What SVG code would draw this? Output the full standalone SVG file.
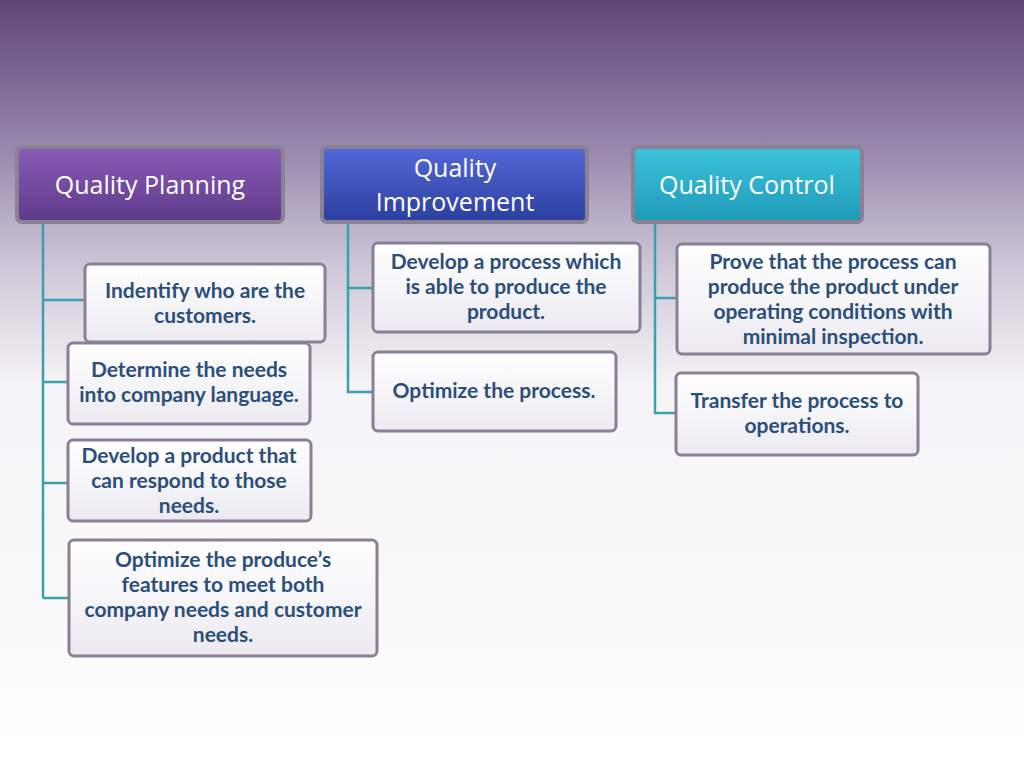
<svg xmlns="http://www.w3.org/2000/svg" width="1024" height="768" viewBox="0 0 1024 768">
<defs>
<linearGradient id="bg" x1="0" y1="0" x2="0" y2="1">
<stop offset="0" stop-color="#5d4679"/>
<stop offset="0.2" stop-color="#9a8aae"/>
<stop offset="0.35" stop-color="#cfc8d8"/>
<stop offset="0.5" stop-color="#f4f3f5"/>
<stop offset="1" stop-color="#ffffff"/>
</linearGradient>
<linearGradient id="gp" x1="0" y1="0" x2="0" y2="1"><stop offset="0" stop-color="#8a5cb8"/><stop offset="1" stop-color="#5e3a8a"/></linearGradient>
<linearGradient id="gi" x1="0" y1="0" x2="0" y2="1"><stop offset="0" stop-color="#5268d6"/><stop offset="1" stop-color="#2c3fa0"/></linearGradient>
<linearGradient id="gc" x1="0" y1="0" x2="0" y2="1"><stop offset="0" stop-color="#3cc3dc"/><stop offset="1" stop-color="#1f9ab8"/></linearGradient>
<linearGradient id="gw" x1="0" y1="0" x2="0" y2="1"><stop offset="0" stop-color="#ffffff"/><stop offset="1" stop-color="#eceaf0"/></linearGradient>
<style>
.hd{stroke:#8a8294;stroke-width:4}
.ch{fill:url(#gw);stroke:#8a7f96;stroke-width:3}
.ht{font-family:"Open Sans","DejaVu Sans",sans-serif;font-size:25px;fill:#fff;text-anchor:middle}
.ct{font-family:Lato,"Open Sans",sans-serif;font-weight:bold;font-size:21px;fill:#2b4f7a;text-anchor:middle}
.cn{stroke:#3a9fb0;stroke-width:2.5;fill:none}
</style>
</defs>
<rect width="1024" height="768" fill="url(#bg)"/>
<g id="connectors">
<path class="cn" d="M43 222V598M43 300H85M43 382H68M43 483H68M43 598H69"/>
<path class="cn" d="M348 222V392H373M348 288H373"/>
<path class="cn" d="M655 222V413H676M655 298H677"/>
</g>
<g id="qp"><rect class="hd" x="17" y="147" width="266" height="75" rx="5" fill="url(#gp)"/><text class="ht" x="150" y="194">Quality Planning</text></g>
<g id="qi"><rect class="hd" x="322" y="147" width="265" height="75" rx="5" fill="url(#gi)"/><text class="ht" x="455" y="177">Quality</text><text class="ht" x="455" y="211">Improvement</text></g>
<g id="qc"><rect class="hd" x="633" y="147" width="229" height="75" rx="5" fill="url(#gc)"/><text class="ht" x="747" y="194">Quality Control</text></g>
<g id="p1"><rect class="ch" x="85" y="264" width="240" height="78" rx="5"/><text class="ct" x="205" y="298">Indentify who are the</text><text class="ct" x="205" y="323">customers.</text></g>
<g id="p2"><rect class="ch" x="68" y="343" width="242" height="81" rx="5"/><text class="ct" x="189" y="377">Determine the needs</text><text class="ct" x="189" y="402">into company language.</text></g>
<g id="p3"><rect class="ch" x="68" y="440" width="243" height="81" rx="5"/><text class="ct" x="189" y="463">Develop a product that</text><text class="ct" x="189" y="488">can respond to those</text><text class="ct" x="189" y="513">needs.</text></g>
<g id="p4"><rect class="ch" x="69" y="540" width="308" height="116" rx="5"/><text class="ct" x="223" y="567">Optimize the produce’s</text><text class="ct" x="223" y="592">features to meet both</text><text class="ct" x="223" y="617">company needs and customer</text><text class="ct" x="223" y="642">needs.</text></g>
<g id="i1"><rect class="ch" x="373" y="243" width="267" height="89" rx="5"/><text class="ct" x="506" y="269">Develop a process which</text><text class="ct" x="506" y="294">is able to produce the</text><text class="ct" x="506" y="319">product.</text></g>
<g id="i2"><rect class="ch" x="373" y="352" width="243" height="79" rx="5"/><text class="ct" x="494" y="398">Optimize the process.</text></g>
<g id="c1"><rect class="ch" x="677" y="244" width="313" height="110" rx="5"/><text class="ct" x="833" y="269">Prove that the process can</text><text class="ct" x="833" y="294">produce the product under</text><text class="ct" x="833" y="319">operating conditions with</text><text class="ct" x="833" y="344">minimal inspection.</text></g>
<g id="c2"><rect class="ch" x="676" y="373" width="242" height="82" rx="5"/><text class="ct" x="797" y="408">Transfer the process to</text><text class="ct" x="797" y="433">operations.</text></g>
</svg>
